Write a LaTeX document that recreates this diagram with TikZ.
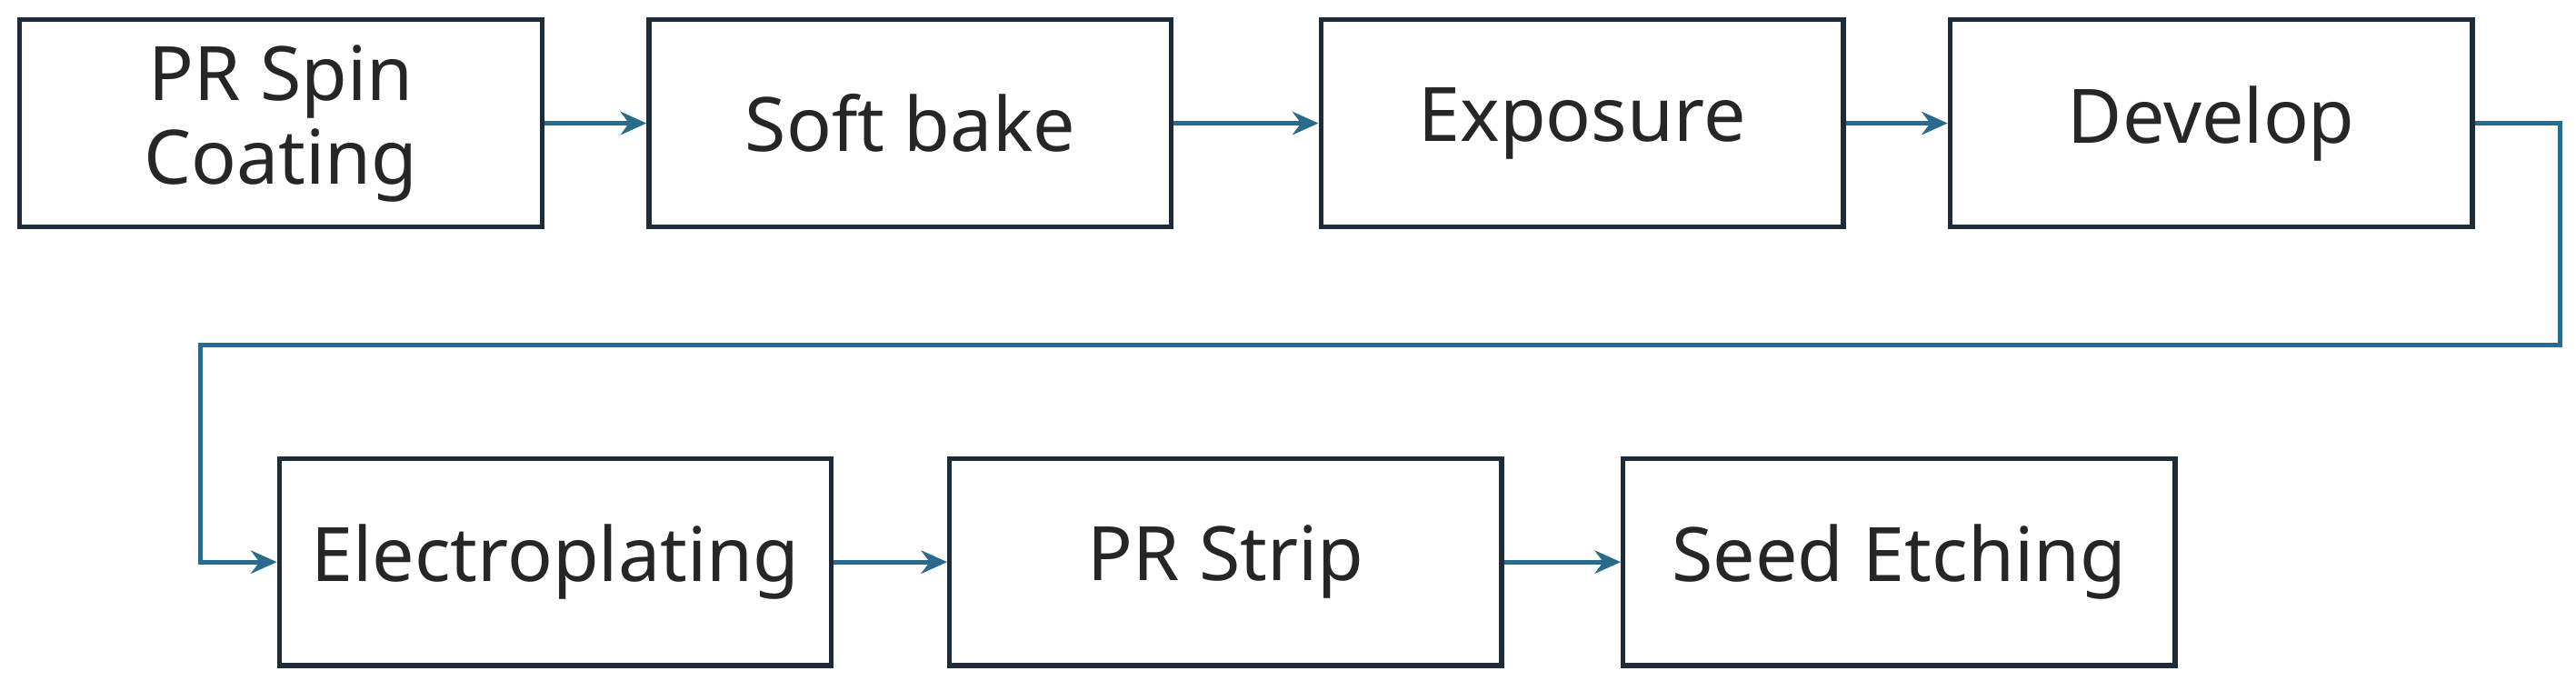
\documentclass[tikz,border=0pt]{standalone}
\usepackage{fontspec}
\setmainfont{Noto Sans}
\usetikzlibrary{arrows.meta,positioning,calc}
\definecolor{boxline}{HTML}{1E2B38}
\definecolor{flow}{HTML}{2A6A8C}
\begin{document}
\begin{tikzpicture}[x=0.02cm, y=-0.02cm, every node/.style={font=\fontsize{26}{29}\selectfont},
  stage/.style={draw=boxline, line width=1.7pt, minimum width=6.36cm, minimum height=2.52cm, align=center, inner sep=0pt, text=black!85},
  wide/.style={stage, minimum width=6.72cm},
  link/.style={draw=flow, line width=1.5pt, -{Stealth[length=9pt,width=8pt]}},
]
\useasboundingbox (0,0) rectangle (1568,420);

% --- first row ---
\node[stage] (spin) at (171,75) {PR Spin\\Coating};
\node[stage] (soft) at (554,75) {Soft bake};
\node[stage] (expo) at (963,75) {Exposure};
\node[stage] (devl) at (1346,75) {Develop};

% --- second row ---
\node[wide] (plat) at (338,342) {Electroplating};
\node[wide] (strip) at (746,342) {PR Strip};
\node[wide] (seed) at (1156,342) {Seed Etching};

% connectors
\draw[link] (spin) -- (soft);
\draw[link] (soft) -- (expo);
\draw[link] (expo) -- (devl);
\draw[link] (devl.east) -- ++(52,0) |- (122,210) |- (plat.west);
\draw[link] (plat) -- (strip);
\draw[link] (strip) -- (seed);

\end{tikzpicture}
\end{document}
